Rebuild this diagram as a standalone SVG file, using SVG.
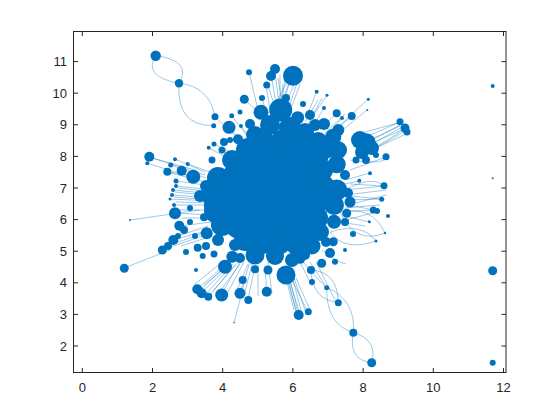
<svg xmlns="http://www.w3.org/2000/svg" width="560" height="420" viewBox="0 0 560 420">
<style>
.ax{stroke:#262626;stroke-width:1;fill:none}
.tk{stroke:#262626;stroke-width:1}
.lb{font-family:"Liberation Sans",Arial,sans-serif;font-size:13px;fill:#262626}
.e{stroke:#0072BD;stroke-opacity:.55;stroke-width:.7;fill:none}
circle{fill:#0072BD}
</style>
<rect width="560" height="420" fill="#fff"/>
<g id="axes">
<rect class="ax" x="73.5" y="31.5" width="432.5" height="341"/>
<path class="tk" d="M82.3,372.5v-4.5M152.5,372.5v-4.5M222.7,372.5v-4.5M292.9,372.5v-4.5M363.1,372.5v-4.5M433.3,372.5v-4.5M503.5,372.5v-4.5M82.3,31.5v4.5M152.5,31.5v4.5M222.7,31.5v4.5M292.9,31.5v4.5M363.1,31.5v4.5M433.3,31.5v4.5M503.5,31.5v4.5M73.5,346h4.5M73.5,314.4h4.5M73.5,282.8h4.5M73.5,251.2h4.5M73.5,219.6h4.5M73.5,188h4.5M73.5,156.4h4.5M73.5,124.8h4.5M73.5,93.2h4.5M73.5,61.6h4.5M506,346h-4.5M506,314.4h-4.5M506,282.8h-4.5M506,251.2h-4.5M506,219.6h-4.5M506,188h-4.5M506,156.4h-4.5M506,124.8h-4.5M506,93.2h-4.5M506,61.6h-4.5"/>
<g class="lb" text-anchor="middle">
<text x="82.3" y="392">0</text><text x="152.5" y="392">2</text><text x="222.7" y="392">4</text><text x="292.9" y="392">6</text><text x="363.1" y="392">8</text><text x="433.3" y="392">10</text><text x="503.5" y="392">12</text>
</g>
<g class="lb" text-anchor="end">
<text x="67" y="350.5">2</text><text x="67" y="318.9">3</text><text x="67" y="287.3">4</text><text x="67" y="255.7">5</text><text x="67" y="224.1">6</text><text x="67" y="192.5">7</text><text x="67" y="160.9">8</text><text x="67" y="129.3">9</text><text x="67" y="97.7">10</text><text x="67" y="66.1">11</text>
</g>
</g>
<g id="edges">
<path class="e" d="M155.7,55.7Q192.5,60.5 179,83.3M155.7,55.7Q142.5,76.5 179,83.3M179,83.3Q209,86 215,116.7M179,83.3Q176,126 213.7,125.7
M311,270Q312,300 338.3,302.3M311,270Q338,272 338.3,302.3M326.7,287.3Q326,325 353.3,332.3M326.7,287.3Q356,300 353.3,332.3M353.3,332.3Q348,360 371.7,362.7M353.3,332.3Q378,340 371.7,362.7
M330,232Q345,252 376,241M330,232Q362,222 376,241M340,212Q355,245 385,233M340,212Q372,205 385,233M345,190Q372,175 384,186M322,250Q336,262 346,264M350,160Q385,165 386,157M300,258Q318,280 326.7,287.7
M275,72L279,104M272,80L276,104M285,78L282,102M290,80L284,102M295,82L286,103M280,75L280,100M288,80L278,100M298,80L290,104M268,86L274,104M292,74L283,100M266,85L270,110M283,84L281,104M278,78L282,102M300,84L292,106
M249,72L258,110M244,99L258,112M229,127L250,150M215,117L240,140M214,144L235,155M209,148L232,160M238,139L252,150M231.7,115.7L250,140M241,126L255,145M262,98L268,120
M316.7,91.7L306,118M327,95L310,120M318,100L305,122M322,98L308,124M336.7,113L320,130M351.7,116L330,135M368,99L335,130M367,110L340,132M345,114L325,133M324,108L312,128M342,118L326,136
M400,122L368,136M402,124L372,140M404,126L370,145M406,128L375,142M405,131L372,150M408,133L376,148M398,123L365,132M403,130L378,146M400,126L374,138
M386,157L350,170M384,186L345,190M382,199L345,200M370,173L345,180M359,181L340,185M373,210L343,212M369,222L342,215M386,190L346,195M386,195L348,205M380,205L345,208M376,212L346,220M365,226L340,222M384,186L350,184M382,199L350,196M373,210L350,205
M149,157L205,175M147,163L200,180M167,172L205,182M175,159L205,172M188,164L210,172M171,165L206,178M130,220L200,210M124,268L170,250M162,250L205,235M168,246L206,232M178,236L208,226M149,157L195,170M167,172L198,176
M176,186L214,190M173,190L214,194M172,195L214,198M170,199L214,201M174,205L214,205M176,181L212,186M175,213L210,215M179,226L212,222M173,240L210,230M181,246L212,236M178,188L214,192M175,192L214,196M174,197L214,200M176,202L214,203M180,210L214,210M182,218L212,218
M197,289L225,265M201,293L230,265M208,297L235,265M221,295L240,262M240,293L250,262M248,300L255,265M266.7,292L265,265M234,323L245,280M298.7,315L290,280M308,312L292,280M300,258L295,250M204,285L232,262M214,290L238,262M228,292L244,262M258,296L258,265M272,294L268,262M194,285L222,262M199,291L228,264M205,295L233,264M218,294L240,264M236,292L248,264M244,296L252,264
M294,310L286,278M296,312L288,278M302,314L292,276M306,313L294,278M310,310L296,278M312,286L300,262M326.7,287.7L310,262M336,302L316,262M298,316L288,282M300,314L290,282"/>
</g>
<g id="nodes">
<g id="n1"><circle cx="155.7" cy="55.7" r="5.2"/></g>
<g id="n2"><circle cx="179" cy="83.3" r="4.2"/></g>
<g id="n3"><circle cx="215" cy="116.7" r="3.5"/></g>
<g id="n4"><circle cx="213.7" cy="125.7" r="2.5"/></g>
<g id="n5"><circle cx="249" cy="72.3" r="3"/></g>
<g id="n6"><circle cx="275" cy="69" r="5"/></g>
<g id="n7"><circle cx="271" cy="76" r="5"/></g>
<g id="n8"><circle cx="293" cy="75.7" r="10"/></g>
<g id="n9"><circle cx="266.7" cy="85" r="3.5"/></g>
<g id="n10"><circle cx="244.3" cy="99.3" r="4.5"/></g>
<g id="n11"><circle cx="280.7" cy="110" r="11.5"/></g>
<g id="n12"><circle cx="261" cy="112.3" r="7.5"/></g>
<g id="n13"><circle cx="297.7" cy="117.7" r="6.5"/></g>
<g id="n14"><circle cx="229" cy="127.3" r="6.5"/></g>
<g id="n15"><circle cx="238" cy="139.3" r="5"/></g>
<g id="n16"><circle cx="231.7" cy="115.7" r="2.5"/></g>
<g id="n17"><circle cx="241" cy="126" r="2"/></g>
<g id="n18"><circle cx="214" cy="144" r="2.5"/></g>
<g id="n19"><circle cx="208.7" cy="147.7" r="2"/></g>
<g id="n20"><circle cx="316.7" cy="91.7" r="2"/></g>
<g id="n21"><circle cx="327" cy="95.3" r="1.5"/></g>
<g id="n22"><circle cx="336.7" cy="113.3" r="4"/></g>
<g id="n23"><circle cx="351.7" cy="116" r="4"/></g>
<g id="n24"><circle cx="368.3" cy="99.3" r="1.5"/></g>
<g id="n25"><circle cx="367.3" cy="110" r="1"/></g>
<g id="n26"><circle cx="400" cy="121.7" r="3.5"/></g>
<g id="n27"><circle cx="405" cy="128" r="4.5"/></g>
<g id="n28"><circle cx="407" cy="132" r="3.5"/></g>
<g id="n29"><circle cx="366" cy="143.3" r="10"/></g>
<g id="n30"><circle cx="360" cy="140" r="9"/></g>
<g id="n31"><circle cx="372" cy="148" r="7"/></g>
<g id="n32"><circle cx="362" cy="152" r="7"/></g>
<g id="n33"><circle cx="366" cy="160" r="4"/></g>
<g id="n34"><circle cx="376" cy="155" r="3"/></g>
<g id="n35"><circle cx="386" cy="156.7" r="3.5"/></g>
<g id="n36"><circle cx="492.7" cy="86" r="2"/></g>
<g id="n37"><circle cx="492.7" cy="178.3" r="1"/></g>
<g id="n38"><circle cx="492.7" cy="270.7" r="4.5"/></g>
<g id="n39"><circle cx="492.7" cy="362.7" r="3"/></g>
<g id="n40"><circle cx="149.3" cy="156.7" r="5"/></g>
<g id="n41"><circle cx="147.3" cy="163.3" r="2"/></g>
<g id="n42"><circle cx="167.3" cy="171.7" r="4"/></g>
<g id="n43"><circle cx="170.7" cy="165" r="2.5"/></g>
<g id="n44"><circle cx="175" cy="159.3" r="2"/></g>
<g id="n45"><circle cx="187.7" cy="164" r="2"/></g>
<g id="n46"><circle cx="193.3" cy="176.7" r="7"/></g>
<g id="n47"><circle cx="181.7" cy="170.7" r="5"/></g>
<g id="n48"><circle cx="130" cy="220" r="1"/></g>
<g id="n49"><circle cx="124.3" cy="268.3" r="4.5"/></g>
<g id="n50"><circle cx="162.3" cy="250" r="4.5"/></g>
<g id="n51"><circle cx="175" cy="213.3" r="6"/></g>
<g id="n52"><circle cx="179.3" cy="225.7" r="5"/></g>
<g id="n53"><circle cx="173.3" cy="240" r="5"/></g>
<g id="n54"><circle cx="168" cy="246" r="4"/></g>
<g id="n55"><circle cx="197.7" cy="247.7" r="4"/></g>
<g id="n56"><circle cx="202.7" cy="256" r="3"/></g>
<g id="n57"><circle cx="206.7" cy="233.3" r="6"/></g>
<g id="n58"><circle cx="204" cy="217.3" r="4"/></g>
<g id="n59"><circle cx="208.3" cy="205.7" r="4.5"/></g>
<g id="n60"><circle cx="225" cy="266.7" r="7"/></g>
<g id="n61"><circle cx="232.3" cy="256.7" r="6"/></g>
<g id="n62"><circle cx="255" cy="255" r="9.5"/></g>
<g id="n63"><circle cx="286" cy="275" r="9.5"/></g>
<g id="n64"><circle cx="197.3" cy="289.3" r="5"/></g>
<g id="n65"><circle cx="201.7" cy="293.3" r="5"/></g>
<g id="n66"><circle cx="208.3" cy="296.7" r="4"/></g>
<g id="n67"><circle cx="221.7" cy="295" r="6.5"/></g>
<g id="n68"><circle cx="240" cy="293.3" r="5.5"/></g>
<g id="n69"><circle cx="248.3" cy="300" r="4"/></g>
<g id="n70"><circle cx="266.7" cy="291.7" r="5"/></g>
<g id="n71"><circle cx="255" cy="269.3" r="4"/></g>
<g id="n72"><circle cx="242.7" cy="280" r="4"/></g>
<g id="n73"><circle cx="234" cy="322.7" r="0.8"/></g>
<g id="n74"><circle cx="298.7" cy="315" r="5"/></g>
<g id="n75"><circle cx="308.3" cy="311.7" r="3.5"/></g>
<g id="n76"><circle cx="300" cy="258.3" r="5.5"/></g>
<g id="n77"><circle cx="311" cy="270" r="4"/></g>
<g id="n78"><circle cx="321.7" cy="263.3" r="4.5"/></g>
<g id="n79"><circle cx="326.7" cy="287.7" r="2.5"/></g>
<g id="n80"><circle cx="338.3" cy="302.7" r="3.5"/></g>
<g id="n81"><circle cx="353.3" cy="332.7" r="4"/></g>
<g id="n82"><circle cx="371.7" cy="362.7" r="4.5"/></g>
<g id="n83"><circle cx="333.3" cy="241.7" r="4.5"/></g>
<g id="n84"><circle cx="335" cy="261.7" r="3"/></g>
<g id="n85"><circle cx="376" cy="241" r="1.5"/></g>
<g id="n86"><circle cx="334" cy="221.7" r="7"/></g>
<g id="n87"><circle cx="336.7" cy="190" r="10.5"/></g>
<g id="n88"><circle cx="346.7" cy="213.3" r="4.5"/></g>
<g id="n89"><circle cx="373.3" cy="210" r="3.5"/></g>
<g id="n90"><circle cx="377" cy="211" r="3"/></g>
<g id="n91"><circle cx="384" cy="185.7" r="3.5"/></g>
<g id="n92"><circle cx="381.7" cy="199.3" r="2.5"/></g>
<g id="n93"><circle cx="370" cy="173.3" r="2"/></g>
<g id="n94"><circle cx="359.3" cy="180.7" r="2"/></g>
<g id="n95"><circle cx="336.7" cy="164.3" r="9"/></g>
<g id="n96"><circle cx="333.3" cy="136.7" r="8"/></g>
<g id="n97"><circle cx="338.3" cy="130" r="6"/></g>
<g id="n98"><circle cx="369.3" cy="221.7" r="1.5"/></g>
<g id="n99"><circle cx="270" cy="125" r="10"/></g>
<g id="n100"><circle cx="290" cy="128" r="11"/></g>
<g id="n101"><circle cx="305" cy="132" r="9"/></g>
<g id="n102"><circle cx="255" cy="135" r="9"/></g>
<g id="n103"><circle cx="318" cy="142" r="10"/></g>
<g id="n104"><circle cx="248" cy="150" r="12"/></g>
<g id="n105"><circle cx="265" cy="145" r="12.5"/></g>
<g id="n106"><circle cx="283" cy="142" r="12.5"/></g>
<g id="n107"><circle cx="300" cy="148" r="12.5"/></g>
<g id="n108"><circle cx="318" cy="155" r="11"/></g>
<g id="n109"><circle cx="232" cy="160" r="10"/></g>
<g id="n110"><circle cx="250" cy="165" r="13.5"/></g>
<g id="n111"><circle cx="268" cy="162" r="13.5"/></g>
<g id="n112"><circle cx="286" cy="160" r="13.5"/></g>
<g id="n113"><circle cx="304" cy="165" r="13.5"/></g>
<g id="n114"><circle cx="322" cy="170" r="11"/></g>
<g id="n115"><circle cx="218" cy="178" r="11"/></g>
<g id="n116"><circle cx="235" cy="176" r="12.5"/></g>
<g id="n117"><circle cx="252" cy="180" r="13.5"/></g>
<g id="n118"><circle cx="270" cy="178" r="14.5"/></g>
<g id="n119"><circle cx="288" cy="178" r="14.5"/></g>
<g id="n120"><circle cx="306" cy="182" r="13.5"/></g>
<g id="n121"><circle cx="322" cy="186" r="12"/></g>
<g id="n122"><circle cx="212" cy="195" r="11"/></g>
<g id="n123"><circle cx="228" cy="192" r="12.5"/></g>
<g id="n124"><circle cx="246" cy="196" r="14.5"/></g>
<g id="n125"><circle cx="264" cy="195" r="14.5"/></g>
<g id="n126"><circle cx="282" cy="195" r="14.5"/></g>
<g id="n127"><circle cx="300" cy="198" r="13.5"/></g>
<g id="n128"><circle cx="318" cy="200" r="12"/></g>
<g id="n129"><circle cx="334" cy="205" r="10"/></g>
<g id="n130"><circle cx="216" cy="211" r="12"/></g>
<g id="n131"><circle cx="232" cy="210" r="13.5"/></g>
<g id="n132"><circle cx="248" cy="212" r="14.5"/></g>
<g id="n133"><circle cx="266" cy="212" r="14.5"/></g>
<g id="n134"><circle cx="284" cy="212" r="14.5"/></g>
<g id="n135"><circle cx="300" cy="215" r="13.5"/></g>
<g id="n136"><circle cx="316" cy="218" r="12"/></g>
<g id="n137"><circle cx="222" cy="225" r="11"/></g>
<g id="n138"><circle cx="238" cy="226" r="12.5"/></g>
<g id="n139"><circle cx="256" cy="228" r="13.5"/></g>
<g id="n140"><circle cx="274" cy="228" r="13.5"/></g>
<g id="n141"><circle cx="292" cy="230" r="12.5"/></g>
<g id="n142"><circle cx="308" cy="232" r="11"/></g>
<g id="n143"><circle cx="245" cy="240" r="11"/></g>
<g id="n144"><circle cx="262" cy="242" r="12"/></g>
<g id="n145"><circle cx="280" cy="243" r="11"/></g>
<g id="n146"><circle cx="296" cy="245" r="10"/></g>
<g id="n147"><circle cx="312" cy="246" r="8.5"/></g>
<g id="n148"><circle cx="275" cy="256" r="9"/></g>
<g id="n149"><circle cx="292" cy="260" r="7"/></g>
<g id="n150"><circle cx="206" cy="186" r="6"/></g>
<g id="n151"><circle cx="200" cy="196" r="6"/></g>
<g id="n152"><circle cx="338" cy="150" r="9"/></g>
<g id="n153"><circle cx="324" cy="124" r="6"/></g>
<g id="n154"><circle cx="310" cy="115" r="5"/></g>
<g id="n155"><circle cx="235" cy="245" r="6"/></g>
<g id="n156"><circle cx="218" cy="240" r="6"/></g>
<g id="n157"><circle cx="320" cy="232" r="9"/></g>
<g id="n158"><circle cx="330" cy="253" r="5"/></g>
<g id="n159"><circle cx="345" cy="222" r="4"/></g>
<g id="n160"><circle cx="353" cy="234" r="3"/></g>
<g id="n161"><circle cx="348" cy="193" r="5"/></g>
<g id="n162"><circle cx="350" cy="202" r="5.5"/></g>
<g id="n163"><circle cx="388" cy="216" r="2"/></g>
<g id="n164"><circle cx="385" cy="233" r="1.2"/></g>
<g id="n165"><circle cx="176" cy="186" r="2"/></g>
<g id="n166"><circle cx="173" cy="190" r="2"/></g>
<g id="n167"><circle cx="172" cy="195" r="2"/></g>
<g id="n168"><circle cx="170" cy="199" r="1.5"/></g>
<g id="n169"><circle cx="174" cy="205" r="2"/></g>
<g id="n170"><circle cx="176" cy="181" r="2.5"/></g>
<g id="n171"><circle cx="178" cy="236" r="3"/></g>
<g id="n172"><circle cx="184" cy="230" r="4"/></g>
<g id="n173"><circle cx="190" cy="222" r="3"/></g>
<g id="n174"><circle cx="212" cy="160" r="3.5"/></g>
<g id="n175"><circle cx="222" cy="150" r="3.5"/></g>
<g id="n176"><circle cx="230" cy="140" r="3"/></g>
<g id="n177"><circle cx="186" cy="252" r="3"/></g>
<g id="n178"><circle cx="214" cy="254" r="3.5"/></g>
<g id="n179"><circle cx="268" cy="270" r="4.5"/></g>
<g id="n180"><circle cx="262" cy="98" r="3"/></g>
<g id="n181"><circle cx="286" cy="98" r="4"/></g>
<g id="n182"><circle cx="303" cy="104" r="3"/></g>
<g id="n183"><circle cx="345" cy="175" r="5"/></g>
<g id="n184"><circle cx="356" cy="160" r="3.5"/></g>
<g id="n185"><circle cx="312" cy="282" r="3"/></g>
<g id="n186"><circle cx="345" cy="250" r="2"/></g>
<g id="n187"><circle cx="196" cy="270" r="2"/></g>
<g id="n188"><circle cx="190" cy="208" r="3"/></g>
<g id="n189"><circle cx="324" cy="108" r="2"/></g>
<g id="n190"><circle cx="342" cy="118" r="2"/></g>
<g id="n191"><circle cx="240" cy="112" r="2.5"/></g>
<g id="n192"><circle cx="250" cy="124" r="5"/></g>
<g id="n193"><circle cx="315" cy="125" r="6"/></g>
<g id="n194"><circle cx="328" cy="150" r="8"/></g>
<g id="n195"><circle cx="224" cy="142" r="4"/></g>
<g id="n196"><circle cx="240" cy="258" r="5"/></g>
<g id="n197"><circle cx="305" cy="255" r="5"/></g>
<g id="n198"><circle cx="206" cy="246" r="4"/></g>
<g id="n199"><circle cx="195" cy="236" r="3"/></g>
<g id="n200"><circle cx="326" cy="242" r="5"/></g>
</g>
</svg>
